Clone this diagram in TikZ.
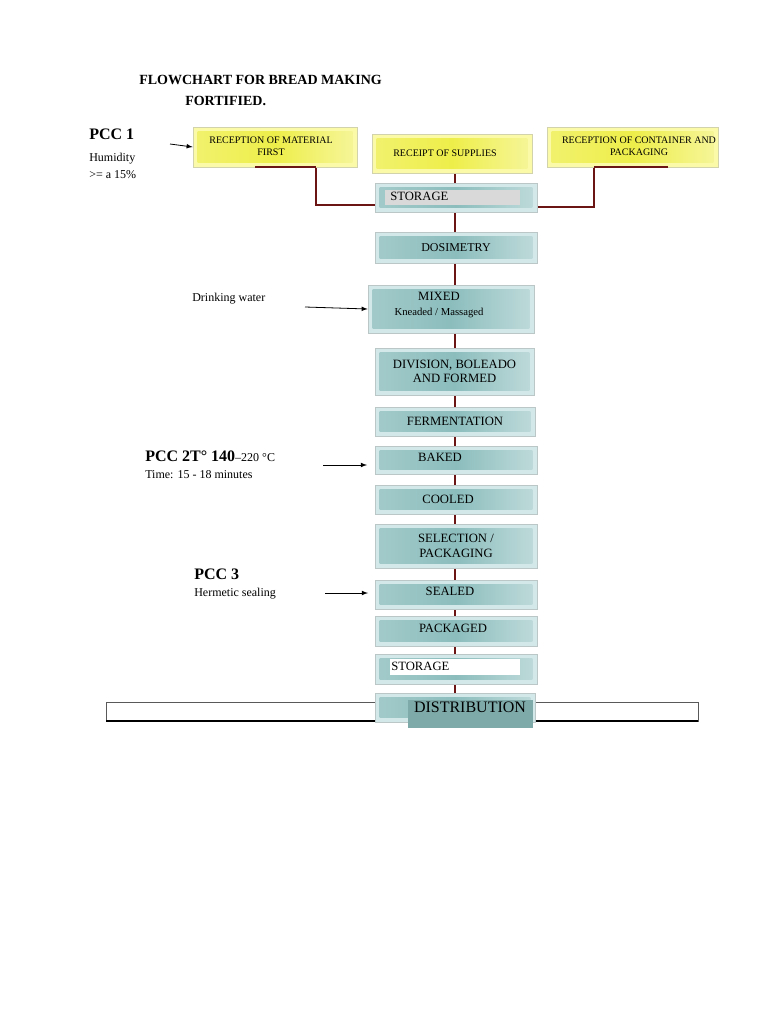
\documentclass[tikz,border=0pt]{standalone}
\usepackage{fontspec}
\setmainfont{Liberation Serif}
\begin{document}
\begin{tikzpicture}[x=0.75pt,y=-0.75pt,
  bev/.style n args={4}{draw=#1!60!black!40,line width=0.4pt,inner sep=0pt,align=center,
    minimum width=#3*0.75pt,minimum height=#4*0.75pt,font=\fontsize{9}{10}\selectfont,
    fill=#2,
    path picture={
      \shade[left color=#1!80!white,right color=#1!55!white,middle color=#1]
        ([shift={(3.5pt,3.5pt)}]path picture bounding box.south west) rectangle
        ([shift={(-3.5pt,-3.5pt)}]path picture bounding box.north east);}},
  teal/.style 2 args={bev={tealc}{tealedge}{#1}{#2}},
  yel/.style 2 args={bev={yelc}{yeledge}{#1}{#2},font=\fontsize{7.5}{9}\selectfont},
  link/.style={draw=linkred,line width=1.6pt},
  arr/.style={-latex,line width=0.6pt},
  lbl/.style={anchor=west,inner sep=0pt,font=\fontsize{9}{11}\selectfont},
  big/.style={anchor=west,inner sep=0pt,font=\fontsize{12}{14}\selectfont\bfseries}]
\definecolor{tealc}{HTML}{8CBDBD}
\definecolor{tealedge}{HTML}{D3E8E8}
\definecolor{yelc}{HTML}{EEEE4A}
\definecolor{yeledge}{HTML}{FAFAA8}
\definecolor{linkred}{HTML}{6B1515}
\useasboundingbox (0,0) rectangle (768,1024);
\fill[white] (0,0) rectangle (768,1024);

\node[anchor=west,inner sep=0pt,font=\fontsize{10.5}{12}\selectfont\bfseries] (t1) at (139,80) {FLOWCHART FOR BREAD MAKING};
\node[anchor=west,inner sep=0pt,font=\fontsize{10.5}{12}\selectfont\bfseries] (t2) at (185,101) {FORTIFIED.};

% connectors (behind)
\coordinate (cA) at (316,167); \coordinate (cB) at (316,205);
\coordinate (cC) at (594,167); \coordinate (cD) at (594,207);
\draw[link] (455,173) -- (455,693);
\draw[link] (255,167) -- (cA) -- (cB) -- (375,205);
\draw[link] (668,167) -- (cC) -- (cD) -- (537,207);

% yellow boxes
\node[yel={164}{40}] (mat) at (275,147) {};
\node[font=\fontsize{7.5}{9}\selectfont,align=center,inner sep=0pt] at (271,146) {RECEPTION OF MATERIAL\\FIRST};
\node[yel={160}{39}] (sup) at (452,153.5) {};
\node[font=\fontsize{7.5}{9}\selectfont,inner sep=0pt] at (445,153) {RECEIPT OF SUPPLIES};
\node[yel={171}{40}] (con) at (632.5,147) {};
\node[font=\fontsize{7.5}{9}\selectfont,align=center,inner sep=0pt] at (639,146) {RECEPTION OF CONTAINER AND\\PACKAGING};
\draw[link] (255,167) -- (cA);
\draw[link] (668,167) -- (cC);

% teal boxes
\node[teal={162}{29}] (st1) at (456,197.5) {};
\fill[gray!30] (385,190) rectangle (520,205);
\node[lbl,font=\fontsize{9.5}{11}\selectfont] at (390,196) {STORAGE};
\node[teal={162}{31}] (dos) at (456,247.5) {DOSIMETRY};
\node[teal={166}{48}] (mix) at (451,309) {};
\node[inner sep=0pt,align=center] at (439,305) {{\fontsize{9.5}{11}\selectfont MIXED}\\[-1pt]{\fontsize{8}{10}\selectfont Kneaded / Massaged}};
\node[teal={159}{47},font=\fontsize{9.5}{11}\selectfont] (div) at (454.5,371.5) {DIVISION, BOLEADO\\AND FORMED};
\node[teal={160}{29},font=\fontsize{9.5}{11}\selectfont] (fer) at (455,421.5) {FERMENTATION};
\node[teal={162}{28}] (bak) at (456,460) {};
\node[inner sep=0pt,font=\fontsize{9.5}{11}\selectfont] at (440,457) {BAKED};
\node[teal={162}{29},font=\fontsize{9.5}{11}\selectfont] (coo) at (456,499.5) {\hspace{-12pt}COOLED};
\node[teal={162}{44},font=\fontsize{9.5}{11}\selectfont] (sel) at (456,546) {SELECTION /\\PACKAGING};
\node[teal={162}{29}] (sea) at (456,594.5) {};
\node[inner sep=0pt,font=\fontsize{9.5}{11}\selectfont] at (450,591) {SEALED};
\node[teal={162}{30}] (pac) at (456,631) {};
\node[inner sep=0pt,font=\fontsize{9.5}{11}\selectfont] at (453,628) {PACKAGED};
\node[teal={162}{30}] (st2) at (456,669) {};
\fill[white] (390,659) rectangle (520,675);
\node[lbl,font=\fontsize{9.5}{11}\selectfont] at (391,666) {STORAGE};

% distribution
\draw[gray!70!black,line width=0.6pt] (106,702) rectangle (698,721);
\draw[black,line width=0.8pt] (106,721) -- (698,721);
\node[teal={160}{29}] (dis) at (455,707.5) {};
\fill[tealc!90!black] (408,700) rectangle (533,728);
\node[inner sep=0pt,font=\fontsize{12}{14}\selectfont] at (470,707) {DISTRIBUTION};

% left annotations
\node[big] (p1) at (89,134) {PCC 1};
\node[lbl] (h1) at (89,159) {Humidity};
\node[lbl] (h2) at (89,175) {>= a 15\%};
\coordinate (a1) at (170,144);
\draw[arr] (a1) -- (mat.west);
\node[lbl] (dw) at (192,299) {Drinking water};
\coordinate (a2) at (305,307);
\draw[arr] (a2) -- (mix.west);
\node[lbl] (p2) at (145,456) {{\fontsize{12}{14}\selectfont\bfseries PCC 2T° 140}–220 °C};
\node[lbl] (tm) at (145,475) {Time: 15 - 18 minutes};
\coordinate (a3) at (323,465);
\draw[arr] (a3) -- (367,465);
\node[big] (p3) at (194,574) {PCC 3};
\node[lbl] (hs) at (194,594) {Hermetic sealing};
\coordinate (a4) at (325,593);
\draw[arr] (a4) -- (368,593);
\end{tikzpicture}
\end{document}
